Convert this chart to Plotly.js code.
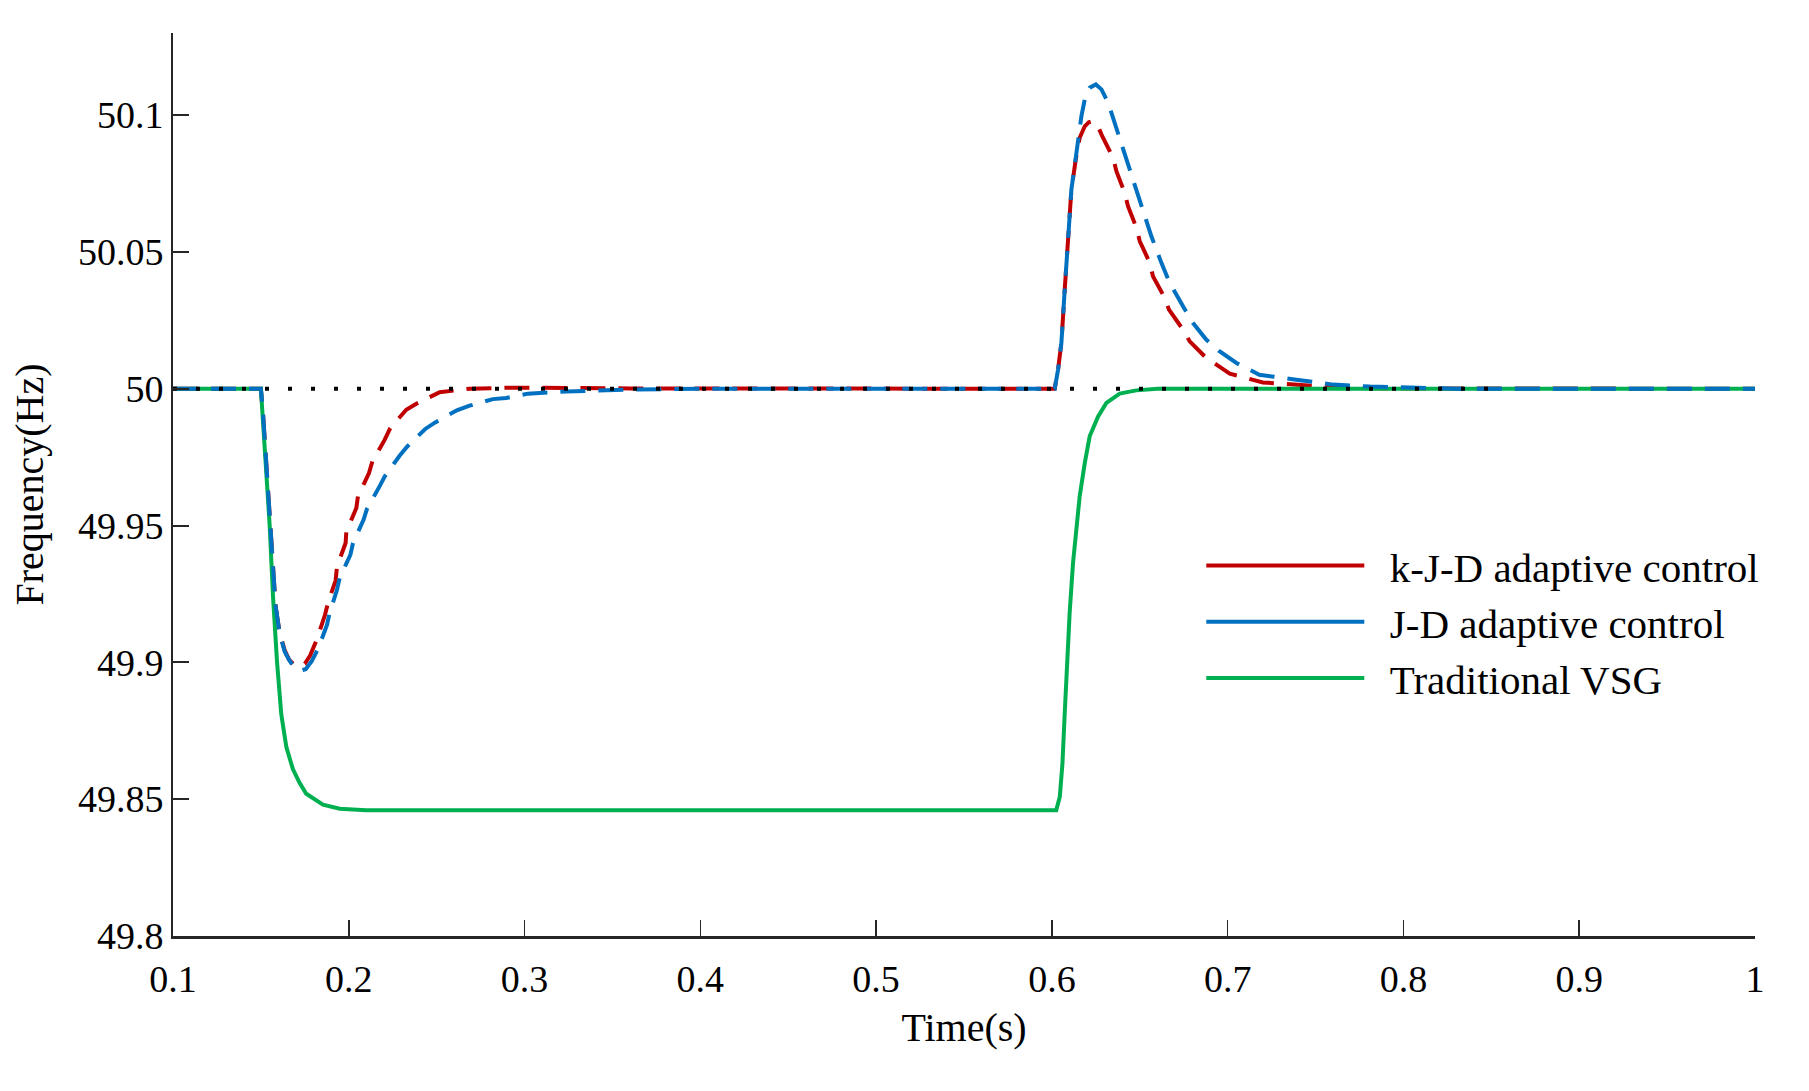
<!DOCTYPE html>
<html>
<head>
<meta charset="utf-8">
<script src="https://cdn.plot.ly/plotly-3.0.1.min.js"></script>
<style>html,body{margin:0;padding:0;background:#fff;}#chart{width:1809px;height:1091px;}</style>
</head>
<body>
<div id="chart"></div>
<script>
// ---- data ----
const seriesNames = ["k-J-D adaptive control", "J-D adaptive control", "Traditional VSG"];

const timeKJD = [0.1, 0.15, 0.1512, 0.1531, 0.155, 0.1565, 0.1584, 0.1607, 0.1635, 0.166, 0.169, 0.172, 0.175, 0.178, 0.1819, 0.1864, 0.1882, 0.1925, 0.1933, 0.1982, 0.1986, 0.2043, 0.2052, 0.2115, 0.2134, 0.2204, 0.2236, 0.2327, 0.2384, 0.2517, 0.2687, 0.2915, 0.32, 0.36, 0.6, 0.6016, 0.6035, 0.6054, 0.6073, 0.6092, 0.6111, 0.6136, 0.6158, 0.6187, 0.621, 0.6234, 0.626, 0.6285, 0.6348, 0.6367, 0.6414, 0.6433, 0.6481, 0.65, 0.6557, 0.6575, 0.6642, 0.6666, 0.6746, 0.6784, 0.6879, 0.6936, 0.7012, 0.72, 0.741, 0.762, 0.79, 1.0];
const freqKJD = [50, 50, 49.991, 49.9728, 49.9545, 49.9362, 49.9204, 49.9106, 49.9045, 49.901, 49.899, 49.8985, 49.8995, 49.9025, 49.9085, 49.9172, 49.9218, 49.9299, 49.935, 49.9436, 49.9478, 49.9564, 49.9606, 49.9692, 49.9734, 49.9813, 49.9856, 49.9923, 49.9945, 49.9987, 50.0, 50.0004, 50.0003, 50.0001, 50, 50.0, 50.0069, 50.0167, 50.0362, 50.0557, 50.0728, 50.0838, 50.0917, 50.0959, 50.0974, 50.0978, 50.0962, 50.0925, 50.0844, 50.0795, 50.0716, 50.0667, 50.0588, 50.0539, 50.046, 50.0411, 50.0332, 50.0289, 50.0216, 50.0173, 50.0112, 50.0088, 50.0055, 50.0023, 50.0013, 50.0005, 50.0001, 50];

const timeJD = [0.1, 0.15, 0.1512, 0.1531, 0.155, 0.1565, 0.1584, 0.1607, 0.1635, 0.166, 0.169, 0.1725, 0.1755, 0.179, 0.1827, 0.1876, 0.1891, 0.1933, 0.1948, 0.2009, 0.2024, 0.2084, 0.2103, 0.2175, 0.2204, 0.2289, 0.2333, 0.2435, 0.2492, 0.2615, 0.2687, 0.282, 0.2896, 0.3019, 0.3237, 0.36, 0.4, 0.6, 0.6016, 0.6035, 0.6054, 0.6073, 0.6092, 0.6111, 0.6136, 0.6154, 0.6168, 0.6187, 0.6215, 0.625, 0.6282, 0.632, 0.6348, 0.6386, 0.6424, 0.6452, 0.6509, 0.6566, 0.6623, 0.667, 0.6746, 0.6803, 0.6879, 0.6955, 0.705, 0.7125, 0.718, 0.739, 0.76, 0.781, 0.803, 0.83, 1.0];
const freqJD = [50, 50, 49.991, 49.9728, 49.9545, 49.9362, 49.9204, 49.9106, 49.904, 49.901, 49.898, 49.897, 49.8975, 49.9005, 49.9052, 49.9137, 49.918, 49.9265, 49.9308, 49.9393, 49.9436, 49.9521, 49.956, 49.9643, 49.9679, 49.9755, 49.9789, 49.9853, 49.9877, 49.9921, 49.9938, 49.9962, 49.9966, 49.9982, 49.999, 49.9997, 50, 50, 50.0, 50.0069, 50.0167, 50.0362, 50.0557, 50.0728, 50.0845, 50.0935, 50.0996, 50.1057, 50.11, 50.1112, 50.1094, 50.1045, 50.099, 50.0917, 50.0838, 50.0783, 50.0667, 50.0557, 50.046, 50.0387, 50.0301, 50.024, 50.0179, 50.0136, 50.0094, 50.0069, 50.0051, 50.0033, 50.0015, 50.0008, 50.0003, 50, 50];

const timeVSG = [0.1, 0.15, 0.1521, 0.155, 0.1569, 0.1592, 0.1616, 0.1645, 0.1682, 0.172, 0.1758, 0.1853, 0.1948, 0.21, 0.6, 0.6025, 0.6045, 0.606, 0.6073, 0.6086, 0.6101, 0.612, 0.614, 0.6158, 0.6187, 0.6215, 0.6263, 0.631, 0.6386, 0.648, 0.66, 1.0];
const freqVSG = [50, 50, 49.979, 49.95, 49.924, 49.9, 49.881, 49.869, 49.861, 49.856, 49.852, 49.848, 49.8465, 49.846, 49.846, 49.846, 49.8509, 49.863, 49.8814, 49.8997, 49.918, 49.9362, 49.9484, 49.9606, 49.9728, 49.9826, 49.9899, 49.9948, 49.9982, 49.9994, 50, 50];

const timeRef = [0.1, 0.85];
const freqRef = [50, 50];

const xTickVals = [0.1, 0.2, 0.3, 0.4, 0.5, 0.6, 0.7, 0.8, 0.9, 1];
const xTickText = ["0.1", "0.2", "0.3", "0.4", "0.5", "0.6", "0.7", "0.8", "0.9", "1"];
const yTickVals = [49.8, 49.85, 49.9, 49.95, 50, 50.05, 50.1, 50.13];
const yTickText = ["49.8", "49.85", "49.9", "49.95", "50", "50.05", "50.1", ""];

// ---- styling ----
const FONT = "Liberation Serif, Times New Roman, serif";
const axisColor = "#262626";
const colors = ["#C00000", "#0070C0", "#00B050"];
const pad = "\u00A0\u00A0";

const traces = [
  // data curves (drawn order: red, green, blue, reference dots)
  {x: timeKJD, y: freqKJD, name: seriesNames[0], mode: "lines", showlegend: false, legendgroup: "a",
   line: {color: colors[0], width: 4, dash: "25px,13px"}},
  {x: timeVSG, y: freqVSG, name: seriesNames[2], mode: "lines", showlegend: false, legendgroup: "c",
   line: {color: colors[2], width: 4}},
  {x: timeJD, y: freqJD, name: seriesNames[1], mode: "lines", showlegend: false, legendgroup: "b",
   line: {color: colors[1], width: 4, dash: "25px,13px"}},
  {x: timeRef, y: freqRef, mode: "lines", showlegend: false, hoverinfo: "skip",
   line: {color: "#000000", width: 4, dash: "4px,19px"}},
  // legend entries (solid keys, as in the reference legend)
  {x: [null], y: [null], name: pad + seriesNames[0], mode: "lines", legendgroup: "a", legendrank: 1,
   line: {color: colors[0], width: 4}},
  {x: [null], y: [null], name: pad + seriesNames[1], mode: "lines", legendgroup: "b", legendrank: 2,
   line: {color: colors[1], width: 4}},
  {x: [null], y: [null], name: pad + seriesNames[2], mode: "lines", legendgroup: "c", legendrank: 3,
   line: {color: colors[2], width: 4}}
];

const layout = {
  width: 1809, height: 1091,
  margin: {l: 173, r: 54, t: 33, b: 155},
  paper_bgcolor: "#ffffff", plot_bgcolor: "#ffffff",
  font: {family: FONT, size: 38, color: "#000000"},
  showlegend: true,
  legend: {
    x: 0.65, y: 0.447, xanchor: "left", yanchor: "top",
    bgcolor: "rgba(0,0,0,0)", borderwidth: 0,
    font: {family: FONT, size: 41, color: "#000000"},
    itemwidth: 158, tracegroupgap: 0, traceorder: "normal"
  },
  xaxis: {
    range: [0.1, 1], tickmode: "array", tickvals: xTickVals, ticktext: xTickText,
    ticks: "inside", ticklen: 16, tickwidth: 1.5, tickcolor: axisColor,
    showline: true, linecolor: axisColor, linewidth: 2.5, mirror: false,
    showgrid: false, zeroline: false, ticklabelstandoff: 8,
    tickfont: {family: FONT, size: 38, color: "#000000"},
    title: {text: "Time(s)", font: {family: FONT, size: 40, color: "#000000"}, standoff: 14}
  },
  yaxis: {
    range: [49.8, 50.13], tickmode: "array", tickvals: yTickVals, ticktext: yTickText,
    ticks: "inside", ticklen: 16, tickwidth: 2, tickcolor: axisColor,
    showline: true, linecolor: axisColor, linewidth: 2, mirror: false,
    showgrid: false, zeroline: false,
    tickfont: {family: FONT, size: 38, color: "#000000"},
    title: {text: "Frequency(Hz)", font: {family: FONT, size: 40, color: "#000000"}, standoff: 22}
  }
};

Plotly.newPlot("chart", traces, layout, {displayModeBar: false, staticPlot: true});
</script>
</body>
</html>
